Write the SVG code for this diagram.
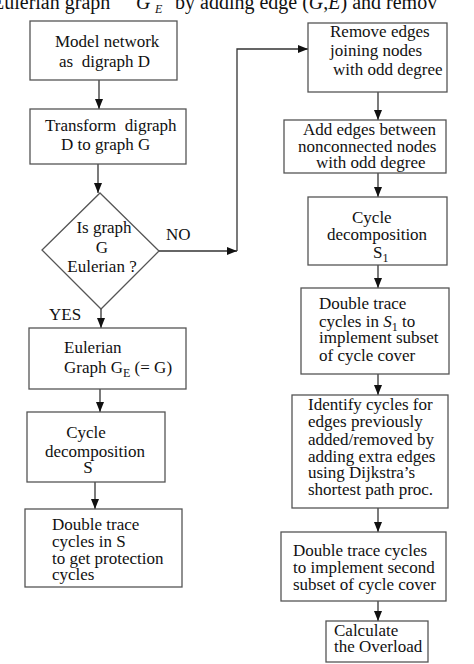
<svg xmlns="http://www.w3.org/2000/svg" width="474" height="664" viewBox="0 0 474 664">
<style>
.box{fill:#fff;stroke:#555;stroke-width:1.3}
.con{fill:none;stroke:#333;stroke-width:1.3}
text{font-family:"Liberation Serif","Times New Roman",serif;font-size:17px;fill:#111}
.t{font-size:20px}
.i{font-style:italic}
.sub{font-size:12px}
.pre{white-space:pre}
</style>
<defs>
<marker id="ah" markerUnits="userSpaceOnUse" markerWidth="10" markerHeight="8" refX="10" refY="4" orient="auto">
<path d="M0,0 L10,4 L0,8 z" fill="#111"/>
</marker>
</defs>
<rect width="474" height="664" fill="#fff"/>
<g id="title">
<text class="t" x="-8" y="8.5">Eulerian graph <tspan class="i" x="136">G</tspan><tspan class="i sub" x="155" dy="4">E</tspan><tspan x="175" dy="-4">by adding edge (</tspan><tspan class="i">G</tspan>,<tspan class="i">E</tspan>) and remov</text>
</g>
<g id="connectors">
<path class="con" marker-end="url(#ah)" d="M99,80 V109"/>
<path class="con" marker-end="url(#ah)" d="M98,164 V193"/>
<path class="con" marker-end="url(#ah)" d="M101,309 V328"/>
<path class="con" marker-end="url(#ah)" d="M100,389 V412"/>
<path class="con" marker-end="url(#ah)" d="M95,482 V509"/>
<path class="con" marker-end="url(#ah)" d="M159,251 H237"/>
<path class="con" marker-end="url(#ah)" d="M237,251 V49 H308"/>
<path class="con" marker-end="url(#ah)" d="M378,92 V120"/>
<path class="con" marker-end="url(#ah)" d="M378,173 V197"/>
<path class="con" marker-end="url(#ah)" d="M378,265 V288"/>
<path class="con" marker-end="url(#ah)" d="M378,374 V395"/>
<path class="con" marker-end="url(#ah)" d="M378,508 V532"/>
<path class="con" marker-end="url(#ah)" d="M378,601 V621"/>
<text x="166" y="240">NO</text>
<text x="49" y="320">YES</text>
</g>
<g id="model">
<rect class="box" x="30" y="21" width="147" height="59"/>
<text x="55" y="47">Model network</text>
<text class="pre" x="59" y="67">as  digraph D</text>
</g>
<g id="transform">
<rect class="box" x="30" y="109" width="156" height="55"/>
<text class="pre" x="45" y="131">Transform  digraph</text>
<text x="61" y="150">D to graph G</text>
</g>
<g id="decision">
<polygon class="box" points="100,193 159,251 101,309 42,250"/>
<text x="104" y="233" text-anchor="middle">Is graph</text>
<text x="102" y="253" text-anchor="middle">G</text>
<text x="102" y="272" text-anchor="middle">Eulerian ?</text>
</g>
<g id="eulerian">
<rect class="box" x="29" y="328" width="157" height="61"/>
<text x="64" y="353">Eulerian</text>
<text x="64" y="373">Graph G<tspan class="sub" dy="4">E</tspan><tspan dy="-4"> (= G)</tspan></text>
</g>
<g id="cycle">
<rect class="box" x="27" y="412" width="138" height="70"/>
<text x="86" y="438" text-anchor="middle">Cycle</text>
<text x="95" y="457" text-anchor="middle">decomposition</text>
<text x="88" y="473" text-anchor="middle">S</text>
</g>
<g id="double1">
<rect class="box" x="25" y="509" width="157" height="78"/>
<text x="52" y="530">Double trace</text>
<text x="52" y="547">cycles in S</text>
<text x="52" y="564">to get protection</text>
<text x="52" y="580">cycles</text>
</g>
<g id="remove">
<rect class="box" x="308" y="23" width="139" height="69"/>
<text x="330" y="37">Remove edges</text>
<text x="330" y="56">joining nodes</text>
<text x="333" y="75">with odd degree</text>
</g>
<g id="add">
<rect class="box" x="284" y="120" width="162" height="53"/>
<text x="303" y="135">Add edges between</text>
<text x="298" y="152">nonconnected nodes</text>
<text x="316" y="168">with odd degree</text>
</g>
<g id="cycle1">
<rect class="box" x="308" y="197" width="139" height="68"/>
<text x="352" y="223">Cycle</text>
<text x="327" y="240">decomposition</text>
<text x="373" y="258">S<tspan class="sub" dy="4">1</tspan></text>
</g>
<g id="double2">
<rect class="box" x="301" y="288" width="148" height="86"/>
<text x="319" y="309">Double trace</text>
<text x="319" y="327">cycles in <tspan class="i">S</tspan><tspan class="sub" dy="4">1</tspan><tspan dy="-4"> to</tspan></text>
<text x="319" y="343">implement subset</text>
<text x="319" y="361">of cycle cover</text>
</g>
<g id="identify">
<rect class="box" x="292" y="395" width="156" height="113"/>
<text x="308" y="410">Identify cycles for</text>
<text x="308" y="427">edges previously</text>
<text x="308" y="445">added/removed by</text>
<text x="308" y="462">adding extra edges</text>
<text x="308" y="478">using Dijkstra’s</text>
<text x="308" y="495">shortest path proc.</text>
</g>
<g id="double3">
<rect class="box" x="281" y="532" width="165" height="69"/>
<text x="293" y="556">Double trace cycles</text>
<text x="293" y="573">to implement second</text>
<text x="293" y="590">subset of cycle cover</text>
</g>
<g id="overload">
<rect class="box" x="326" y="621" width="102" height="41"/>
<text x="334" y="636">Calculate</text>
<text x="334" y="652">the Overload</text>
</g>
</svg>
